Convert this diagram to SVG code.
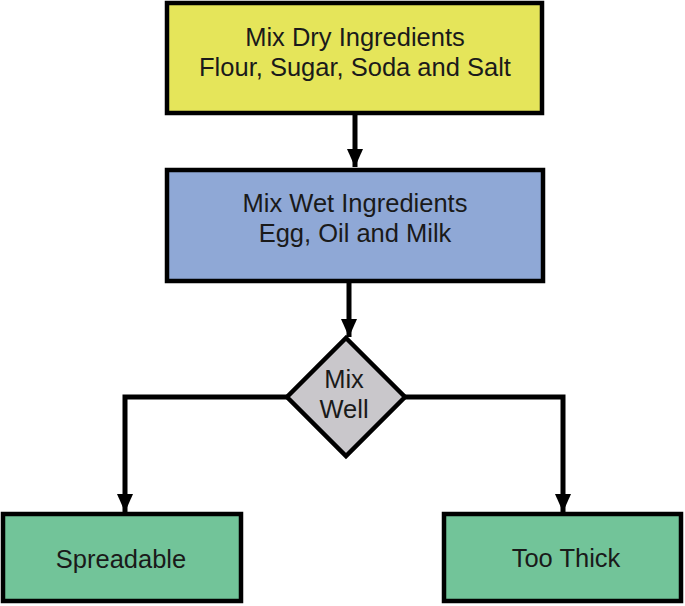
<svg xmlns="http://www.w3.org/2000/svg" width="685" height="606" viewBox="0 0 685 606">
<style>
.box{stroke:#000;stroke-width:4.5}
.t{font-family:"Liberation Sans",Arial,sans-serif;font-size:25.5px;fill:#1a1a1a;text-anchor:middle}
.c{fill:none;stroke:#000;stroke-width:5}
</style>
<defs>
<marker id="ah" markerUnits="userSpaceOnUse" markerWidth="20" markerHeight="20" viewBox="0 0 20 20" refX="18" refY="10" orient="auto">
<path d="M0,2 L18,10 L0,18 Z" fill="#000"/>
</marker>
</defs>
<rect width="685" height="606" fill="#fff"/>
<g id="connectors">
<path class="c" d="M355,113 V167" marker-end="url(#ah)"/>
<path class="c" d="M349,281 V337" marker-end="url(#ah)"/>
<path class="c" d="M287,397 H125 V512" marker-end="url(#ah)"/>
<path class="c" d="M404,397 H563 V512" marker-end="url(#ah)"/>
</g>
<g id="dry">
<rect class="box" x="167" y="3" width="375" height="110" fill="#E5E55A"/>
<text class="t" x="355" y="46">Mix Dry Ingredients</text>
<text class="t" x="355" y="76">Flour, Sugar, Soda and Salt</text>
</g>
<g id="wet">
<rect class="box" x="167" y="170" width="376" height="111" fill="#8FA8D6"/>
<text class="t" x="355" y="212">Mix Wet Ingredients</text>
<text class="t" x="355" y="242">Egg, Oil and Milk</text>
</g>
<g id="mixwell">
<polygon class="box" points="346,338 405,397 346,456 287,397" fill="#C9C7CB"/>
<text class="t" x="344" y="388">Mix</text>
<text class="t" x="344" y="418">Well</text>
</g>
<g id="spreadable">
<rect class="box" x="3" y="514" width="238" height="87" fill="#72C499"/>
<text class="t" x="121" y="568">Spreadable</text>
</g>
<g id="toothick">
<rect class="box" x="444" y="514" width="237" height="87" fill="#72C499"/>
<text class="t" x="566" y="567">Too Thick</text>
</g>
</svg>
